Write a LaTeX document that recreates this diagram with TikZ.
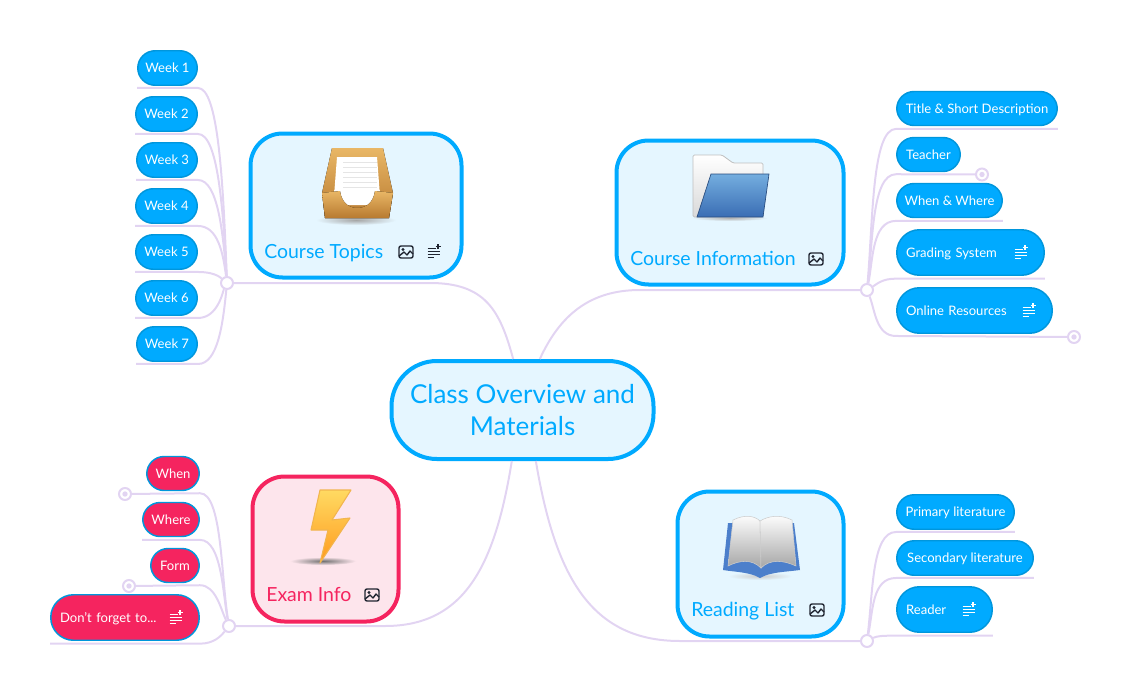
\documentclass[tikz,border=0pt]{standalone}
\usepackage{fontspec}
\setmainfont{Lato}
\definecolor{skyblue}{HTML}{00AAFF}
\definecolor{skyfill}{HTML}{E5F6FF}
\definecolor{pillline}{HTML}{0096DC}
\definecolor{rosered}{HTML}{F5245F}
\definecolor{rosefill}{HTML}{FDE5EC}
\definecolor{branchc}{HTML}{E2D4F2}
\definecolor{inkc}{HTML}{1F2430}
\definecolor{woodhi}{HTML}{E9B766}
\definecolor{woodlo}{HTML}{B87A30}
\definecolor{folderhi}{HTML}{74AEDF}
\definecolor{folderlo}{HTML}{3A6DB4}
\definecolor{boltlo}{HTML}{FF9A1E}
\definecolor{bolthi}{HTML}{FFDA62}
\definecolor{boltline}{HTML}{F2B54E}
\definecolor{bookblue}{HTML}{4C7FCB}
\tikzset{
  sz/.style 2 args={minimum width=#1*0.75pt,minimum height=#2*0.75pt,inner sep=0pt},
  rootbox/.style={draw=skyblue,fill=skyfill,line width=3pt,rounded corners=34pt,text=skyblue,align=center,font=\fontsize{19.5pt}{24pt}\selectfont},
  topicbox/.style={draw=skyblue,fill=skyfill,line width=3pt,rounded corners=24pt},
  examtopicbox/.style={topicbox,draw=rosered,fill=rosefill},
  topictext/.style={anchor=base west,inner sep=0pt,text=skyblue,font=\fontsize{14.6pt}{17pt}\selectfont},
  pill/.style={draw=pillline,fill=skyblue,line width=1.1pt,rounded corners=13pt,text=white,text height=8.6pt,text depth=1.5pt,font=\fontsize{9.8pt}{12pt}\selectfont},
  notepill/.style={pill,rounded corners=17pt,align=left,sz={#1}{45.5},text width=#1*0.75pt},
  redpill/.style={pill,fill=rosered},
  branch/.style={draw=branchc,line width=1.5pt},
  junction/.style={circle,draw=branchc,fill=white,line width=1.5pt,minimum size=9pt,inner sep=0pt},
  collapsed/.style={junction,path picture={\fill[branchc] (path picture bounding box.center) circle (2pt);}},
  pics/imgicon/.style={code={
    \draw[inkc,line width=1.05pt,rounded corners=1.5pt] (-7,-6) rectangle (7,6);
    \fill[inkc] (-3,-2.5) circle (1.3pt);
    \draw[inkc,line width=1.05pt,line join=round] (-7,4) -- (-2,0) -- (1,3) -- (4,-1) -- (7,2);
  }},
  pics/noteicon/.style={code={
    \draw[#1,line width=0.85pt] (-6.5,-2.5) -- (2,-2.5) (-6.5,0.5) -- (6,0.5) (-6.5,3.5) -- (6,3.5) (-6.5,6.5) -- (-0.5,6.5);
    \draw[#1,line width=0.8pt] (4,-7) -- (4,-2) (1.5,-4.5) -- (6.5,-4.5);
  }},
}
\begin{document}
\begin{tikzpicture}[x=0.75pt,y=-0.75pt]
\useasboundingbox (0,0) rectangle (1131,692);

\node[rootbox,sz={262}{98}] (root) at (522.5,410) {Class Overview and\\Materials};
\node[topicbox,sz={211}{144}] (topics) at (356,205.5) {};
\node[topicbox,sz={227}{144}] (info) at (730,212.5) {};
\node[examtopicbox,sz={146}{145}] (exam) at (325.5,549) {};
\node[topicbox,sz={166}{145}] (reading) at (760.5,564) {};

\node[topictext] (topicstext) at (264,258) {Course Topics};
\node[topictext] (infotext) at (630,265) {Course Information};
\node[topictext,text=rosered] (examtext) at (266,601) {Exam Info};
\node[topictext] (readingtext) at (691,616) {Reading List};

\pic at (406,252) {imgicon};
\pic at (434,251) {noteicon=inkc};
\pic at (816,259) {imgicon};
\pic at (372,595) {imgicon};
\pic at (817,610) {imgicon};

% tray
\shade[inner color=black!35,outer color=skyfill] (356,220) ellipse [x radius=40,y radius=5];
\fill[top color=woodhi,bottom color=woodlo] (332,148) -- (383,148) -- (393,193) -- (389,218) -- (325,218) -- (322,193) -- cycle;
\fill[white] (337,157) -- (377,157) -- (380,196) -- (334,196) -- cycle;
\foreach \liney in {162,167,172,177,182,187}
  \draw[black!10,line width=0.4pt] (343,\liney) -- (377,\liney);
\fill[white] (334,190) -- (380,190) -- (373,205) -- (340,205) -- cycle;
\fill[top color=woodhi,bottom color=woodlo] (322,193) -- (340,191) .. controls (342,204) and (350,208) .. (357,208) .. controls (365,208) and (373,204) .. (375,191) -- (393,193) -- (389,218) -- (325,218) -- cycle;

% folder
\shade[inner color=black!30,outer color=skyfill] (730,218) ellipse [x radius=38,y radius=3];
\draw[black!25,line width=0.6pt,top color=white,bottom color=black!15,rounded corners=1pt] (693,155) -- (722,155) -- (733,163) -- (763,163) -- (763,217) -- (693,217) -- cycle;
\draw[folderlo!70!black,line width=0.5pt,top color=folderhi,bottom color=folderlo] (711,174) -- (769,174) -- (763,217) -- (697,217) -- cycle;

% bolt
\shade[inner color=black!55,outer color=rosefill] (323,561) ellipse [x radius=33,y radius=4];
\draw[boltline,line width=0.8pt,top color=bolthi,bottom color=boltlo,line join=round] (320,490) -- (351,490) -- (332,520) -- (350,518) -- (320,563) -- (328,530) -- (311,530) -- cycle;

% book
\shade[inner color=black!20,outer color=skyfill] (760,576) ellipse [x radius=32,y radius=4];
\fill[bookblue] (728,523) -- (794,523) -- (800,570) .. controls (785,572) and (770,572) .. (760,578) .. controls (750,572) and (735,572) .. (723,570) -- cycle;
\draw[black!20,line width=0.4pt,top color=white,bottom color=black!35] (733,520) .. controls (745,514) and (755,516) .. (760,521) -- (761,568) .. controls (752,559) and (740,560) .. (728,566) -- cycle;
\draw[black!20,line width=0.4pt,top color=white,bottom color=black!35] (760,521) .. controls (768,516) and (780,514) .. (792,520) -- (796,566) .. controls (783,560) and (770,559) .. (761,568) -- cycle;

\node[junction] (topicsj) at (227,283) {};
\node[junction] (infoj) at (867,290) {};
\node[junction] (examj) at (229,626) {};
\node[junction] (readingj) at (867,641) {};

\draw[branch] ([xshift=-7pt]root.north) .. controls (500,310) and (485,283) .. (430,283) -- (topicsj);
\draw[branch] ([xshift=13pt]root.north) .. controls (560,315) and (590,290) .. (640,290) -- (infoj);
\draw[branch] ([xshift=-8pt]root.south) .. controls (495,565) and (465,626) .. (385,626) -- (examj);
\draw[branch] ([xshift=10pt]root.south) .. controls (555,575) and (590,641) .. (680,641) -- (readingj);

\node[pill,sz={59.5}{34.5}] (week1) at (167.5,68) {Week 1};
\node[pill,sz={61.5}{34.5}] (week2) at (166.5,114) {Week 2};
\node[pill,sz={60.5}{34.5}] (week3) at (167,160) {Week 3};
\node[pill,sz={61.5}{34.5}] (week4) at (166.5,206) {Week 4};
\node[pill,sz={61.5}{34.5}] (week5) at (166.5,252) {Week 5};
\node[pill,sz={61.5}{34.5}] (week6) at (166.5,298) {Week 6};
\node[pill,sz={60.5}{34.5}] (week7) at (167,344) {Week 7};

\foreach \weekname/\weekctrl in {week1/-105,week2/-75,week3/-50,week4/-30,week5/-3,week6/8,week7/40}
  \draw[branch] ([yshift=-1.5pt]\weekname.south west) -- ([yshift=-1.5pt]\weekname.south east) .. controls +(20,0) and +(-4,\weekctrl) .. (topicsj);

\node[pill,sz={160.5}{34}] (title) at (977,108.5) {Title \& Short Description};
\node[pill,sz={63.5}{34}] (teacher) at (928.5,154.5) {Teacher};
\node[pill,sz={105.5}{34}] (whenwhere) at (949.5,200.5) {When \& Where};
\node[notepill=147.5] (grading) at (970.5,252.5) {\hspace*{7pt}Grading System};
\node[notepill=155.5] (online) at (974.5,310.5) {\hspace*{7pt}Online Resources};
\pic at (1021,252) {noteicon=white};
\pic at (1029,310) {noteicon=white};
\node[collapsed] (teacherend) at (982,174.5) {};
\node[collapsed] (onlineend) at (1074,337) {};

\draw[branch] (infoj) .. controls +(6,-70) and +(-24,0) .. ([yshift=-2pt]title.south west) -- ([yshift=-2pt]title.south east);
\draw[branch] (infoj) .. controls +(6,-50) and +(-24,0) .. ([yshift=-1.5pt]teacher.south west) -- (teacherend);
\draw[branch] (infoj) .. controls +(6,-30) and +(-24,0) .. ([yshift=-2pt]whenwhere.south west) -- ([yshift=-2pt]whenwhere.south east);
\draw[branch] (infoj) .. controls +(10,-6) and +(-14,0) .. ([yshift=-2pt]grading.south west) -- ([yshift=-2pt]grading.south east);
\draw[branch] (infoj) .. controls +(8,20) and +(-20,0) .. ([yshift=-1.5pt]online.south west) -- (onlineend);

\node[redpill,sz={52.5}{34}] (when) at (173,473.5) {When};
\node[redpill,sz={56.5}{34}] (where) at (171,519.5) {Where};
\node[redpill,sz={48.5}{34}] (form) at (175,565.5) {Form};
\node[notepill=148.5,fill=rosered] (forget) at (125,617.5) {\hspace*{7pt}Don't forget to...};
\pic at (176,617) {noteicon=white};
\node[collapsed] (whenend) at (125,494) {};
\node[collapsed] (formend) at (129,586) {};

\draw[branch] (whenend) -- ([yshift=-1.5pt]when.south east) .. controls +(22,0) and +(-8,-50) .. (examj);
\draw[branch] ([yshift=-2pt]where.south west) -- ([yshift=-2pt]where.south east) .. controls +(22,0) and +(-6,-30) .. (examj);
\draw[branch] (formend) -- ([yshift=-1.5pt]form.south east) .. controls +(16,0) and +(-8,-16) .. (examj);
\draw[branch] ([yshift=-2pt]forget.south west) -- ([yshift=-2pt]forget.south east) .. controls +(14,0) and +(-8,10) .. (examj);

\node[pill,sz={117.5}{34.5}] (primary) at (955.5,512) {Primary literature};
\node[pill,sz={136.5}{34.5}] (secondary) at (965,558) {Secondary literature};
\node[notepill=95.5] (reader) at (944.5,609.5) {\hspace*{7pt}Reader};
\pic at (969,609) {noteicon=white};

\draw[branch] (readingj) .. controls +(6,-50) and +(-24,0) .. ([yshift=-1.5pt]primary.south west) -- ([yshift=-1.5pt]primary.south east);
\draw[branch] (readingj) .. controls +(6,-30) and +(-24,0) .. ([yshift=-1.5pt]secondary.south west) -- ([yshift=-1.5pt]secondary.south east);
\draw[branch] (readingj) .. controls +(10,-5) and +(-14,0) .. ([yshift=-2pt]reader.south west) -- ([yshift=-2pt]reader.south east);
\end{tikzpicture}
\end{document}
